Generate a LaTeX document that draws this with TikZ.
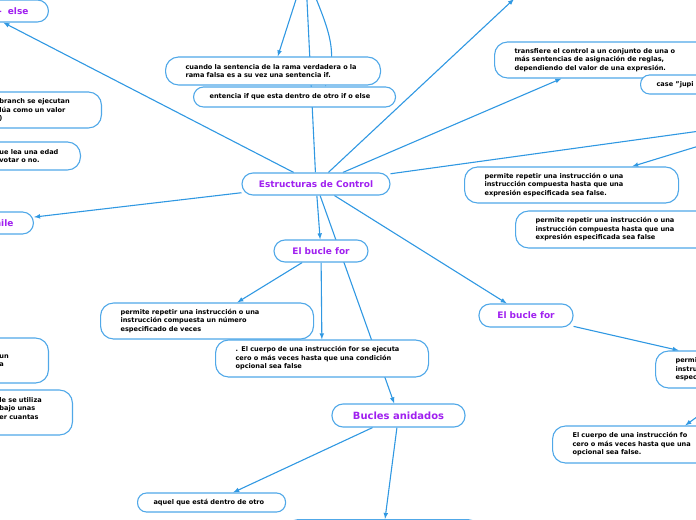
\documentclass[tikz,border=0pt]{standalone}
\usepackage{fontspec}
\setmainfont{DejaVu Sans}
\usetikzlibrary{positioning}
\usetikzlibrary{arrows,backgrounds}
\definecolor{mapline}{RGB}{48,152,226}
\definecolor{mapborder}{RGB}{80,168,232}
\definecolor{mappurple}{RGB}{160,32,240}
\tikzset{
pill/.style={draw=mapborder, line width=1.1bp, fill=white, rounded corners=13bp, inner xsep=20bp, inner ysep=0bp},
note/.style={pill, align=left, text=black, font=\fontsize{6.6}{8.5}\selectfont\bfseries},
topic/.style={pill, align=center, text=mappurple, rounded corners=11bp, inner xsep=8bp, minimum height=22bp, font=\fontsize{9}{10}\selectfont\bfseries},
link/.style={draw=mapline, line width=1.1bp, -latex}
}

\begin{document}
\begin{tikzpicture}[x=1bp,y=-1bp]
\useasboundingbox (0,0) rectangle (696,520);

% hidden ends
\coordinate (ifTop) at (305.5,-30);
\coordinate (topR) at (514,-1);
\coordinate (switchN) at (787,119);

\node[topic, minimum width=148bp](estr) at (316,184){Estructuras de Control};
\node[topic, anchor=east, inner xsep=20bp, text width=95bp, align=right](ifelse) at (49,11){-\ \ else};
\node[topic, anchor=east, inner xsep=20bp, text width=60bp, align=right](hile) at (34,223){hile};
\node[topic, minimum width=94bp](forC) at (321,251){El bucle for};
\node[topic, minimum width=94bp, minimum height=23bp](forR) at (526,315.5){El bucle for};
\node[topic, minimum width=133bp, minimum height=23bp, font=\fontsize{10}{11}\selectfont\bfseries](anid) at (398.5,415.5){Bucles anidados};

\node[note, anchor=west, text width=175bp, minimum height=28bp](cuando) at (165,71){cuando la sentencia de la rama verdadera o la\\rama falsa es a su vez una sentencia if.};
\node[note, anchor=west, text width=170bp, inner xsep=16bp, minimum height=20bp, rounded corners=10bp](entencia) at (193,97){entencia if que esta dentro de otro if o else};
\node[note, anchor=east, text width=82bp, minimum height=36bp](branch) at (102,110){branch se ejecutan\\lúa como un valor\\)};
\node[note, anchor=east, text width=61bp, minimum height=28bp](edad) at (81,156){ue lea una edad\\votar o no.};
\node[note, anchor=east, text width=29bp, minimum height=45bp](unA) at (49,360.5){un\\a};
\node[note, anchor=east, text width=53bp, minimum height=45bp](utiliza) at (73,412.5){le se utiliza\\bajo unas\\er cuantas\\\mbox{}};

\node[note, anchor=west, text width=180bp, minimum height=36bp](transf) at (494,60){transfiere el control a un conjunto de una o\\más sentencias de asignación de reglas,\\dependiendo del valor de una expresión.};
\node[note, anchor=west, text width=80bp, inner xsep=16bp, minimum height=19bp, rounded corners=9bp](caseN) at (640,84.5){case "jupi};
\node[note, anchor=west, text width=174bp, minimum height=36bp](permA) at (464,185){permite repetir una instrucción o una\\instrucción compuesta hasta que una\\expresión especificada sea false.};
\node[note, anchor=west, text width=174bp, minimum height=37bp](permB) at (515,229.5){permite repetir una instrucción o una\\instrucción compuesta hasta que una\\expresión especificada sea false};
\node[note, anchor=west, text width=173bp, minimum height=37bp](permi) at (655,369.5){permi\\instru\\espec};
\node[note, anchor=west, text width=173bp, minimum height=37bp](cuerpoR) at (552,444.5){El cuerpo de una instrucción fo\\cero o más veces hasta que una\\opcional sea false.};

\node[note, anchor=west, text width=173bp, minimum height=36bp](permF) at (100,321){permite repetir una instrucción o una\\instrucción compuesta un número\\especificado de veces};
\node[note, anchor=west, text width=173bp, minimum height=37bp](cuerpoF) at (215,358.5){. El cuerpo de una instrucción for se ejecuta\\cero o más veces hasta que una condición\\opcional sea false};
\node[note, anchor=west, text width=116bp, inner xsep=16bp, minimum height=19bp, rounded corners=9bp](aquel) at (137,502.5){aquel que está dentro de otro};
\node[note, anchor=north, minimum width=195bp, minimum height=30bp](anidB) at (383,519){};

\begin{scope}[on background layer]
\path
(estr) edge[link] (ifelse)
(estr) edge[link] (hile)
(estr) edge[link] (ifTop)
(ifTop) edge[link] (cuando)
(ifTop) edge[link, out=-72, in=70] (entencia.19)
(estr) edge[link] (topR)
(estr) edge[link] (transf)
(estr) edge[link] (switchN)
(switchN) edge[link] (permA)
(estr) edge[link] (forC)
(estr) edge[link] (anid)
(estr) edge[link] (forR)
(forC) edge[link] (permF)
(forC) edge[link] (cuerpoF)
(anid) edge[link] (aquel)
(anid) edge[link] (anidB)
(forR) edge[link] (permi)
(permi) edge[link] (cuerpoR);
\end{scope}
\end{tikzpicture}
\end{document}
